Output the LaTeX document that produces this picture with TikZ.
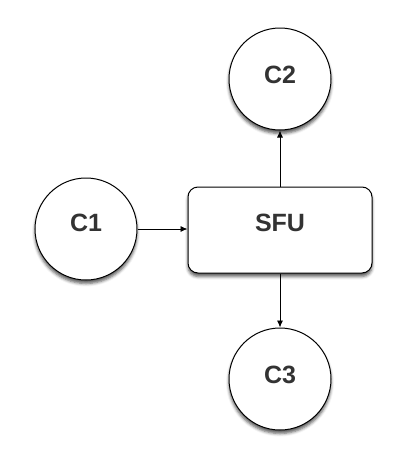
\documentclass[tikz,border=0pt]{standalone}
\usepackage{fontspec}
\setmainfont{Liberation Sans}
\usetikzlibrary{shadows.blur,arrows.meta}
\definecolor{txt}{HTML}{333333}
\tikzset{
  base/.style={draw=black, line width=1pt, fill=white,
    blur shadow={shadow xshift=0pt, shadow yshift=-3.5pt, shadow blur radius=3pt, shadow opacity=65}},
  client/.style={base, circle, minimum size=102pt, inner sep=0pt},
  server/.style={base, rounded corners=10pt, minimum width=184pt, minimum height=86pt, inner sep=0pt},
  lbl/.style={text=txt, font=\bfseries\fontsize{25}{29}\selectfont},
  conn/.style={line width=0.9pt, -{Latex[length=7pt,width=6pt]}}
}
\begin{document}
\begin{tikzpicture}[x=1pt,y=-1pt]
\useasboundingbox (0,0) rectangle (417,466);
\node[client, label={[lbl, yshift=4pt]center:C2}] (c2) at (280,79) {};
\node[client, label={[lbl, yshift=6pt]center:C1}] (c1) at (86,229) {};
\node[server, label={[lbl, yshift=7pt]center:SFU}] (sfu) at (280,230) {};
\node[client, label={[lbl, yshift=4pt]center:C3}] (c3) at (280,379) {};
\draw[conn] (c1.east) -- (c1.east -| sfu.west);
\draw[conn] (sfu.north) -- (c2.south);
\draw[conn] (sfu.south) -- (c3.north);
\end{tikzpicture}
\end{document}
